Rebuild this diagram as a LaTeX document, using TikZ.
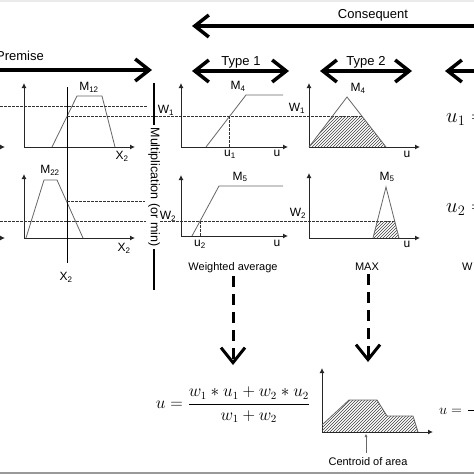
\documentclass[tikz,border=0pt]{standalone}
\usepackage[no-math]{fontspec}
\setmainfont{Liberation Sans}
\usepackage{amsmath}
\usetikzlibrary{arrows.meta,patterns,positioning}

\begin{document}
\begin{tikzpicture}[x=1pt,y=-1pt,
  bigr/.style={line width=3.5pt,-{Straight Barb[length=14pt,width=22pt]}},
  bigl/.style={line width=3.5pt,{Straight Barb[length=14pt,width=22pt]}-},
  bigb/.style={line width=3.5pt,{Straight Barb[length=14pt,width=22pt]}-{Straight Barb[length=14pt,width=22pt]}},
  down/.style={line width=3pt,dash pattern=on 11pt off 7pt,-{Straight Barb[length=15pt,width=24pt]}},
  axes/.style={line width=1pt,draw=black!85,{Latex[length=5pt,width=5pt]}-{Latex[length=5pt,width=5pt]}},
  xax/.style={line width=1pt,draw=black!85,-{Latex[length=5pt,width=5pt]}},
  mf/.style={draw=black!60,line width=0.8pt},
  lvl/.style={draw=black!80,line width=0.7pt,dash pattern=on 2.5pt off 1.5pt},
  hatch/.style={pattern=north east lines,pattern color=black!75},
  barline/.style={line width=1.2pt},
  lbl/.style={inner sep=0pt,font=\fontsize{12}{12}\selectfont},
  ttl/.style={inner sep=0pt,anchor=base,font=\fontsize{13}{13}\selectfont},
  small/.style={inner sep=0pt,anchor=base,font=\fontsize{11}{11}\selectfont}]
\useasboundingbox (0,0) rectangle (474,474);
\fill[white] (0,0) rectangle (474,474);
\clip (0,0) rectangle (474,474);
\fill[black!8] (0,0) rectangle (474,1.5);
\fill[black!40] (0,472) rectangle (474,474);

% headings and the thick arrows
\coordinate (cons l) at (192,26);  \coordinate (cons r) at (480,26);
\coordinate (prem l) at (-10,70);  \coordinate (prem r) at (152,70);
\coordinate (t1 l) at (192,71);    \coordinate (t1 r) at (289,71);
\coordinate (t2 l) at (320,71);    \coordinate (t2 r) at (412,71);
\coordinate (t3 l) at (445,71);    \coordinate (t3 r) at (480,71);
\node[ttl] (cons) at (373,18) {Consequent};
\node[ttl,anchor=base east] (prem) at (44,60) {Premise};
\node[ttl] (type1) at (241,65) {Type 1};
\node[ttl] (type2) at (366,65) {Type 2};
\draw[bigl] (cons l) -- (cons r);
\draw[bigr] (prem l) -- (prem r);
\draw[bigb] (t1 l) -- (t1 r);
\draw[bigb] (t2 l) -- (t2 r);
\draw[bigl] (t3 l) -- (t3 r);

% premise
\draw[xax] (-10,147) -- (5,147);
\draw[xax] (-10,238) -- (5,238);
\draw[axes] (24,83) -- (24,147) -- (135,147);
\draw[mf] (52,147) -- (77,96) -- (102,96) -- (115,147);
\node[lbl] (m12) at (89,87) {M\textsubscript{12}};
\node[lbl] (x2a) at (122,156) {X\textsubscript{2}};
\draw[axes] (24,174) -- (24,238) -- (135,238);
\draw[mf] (26,238) -- (44,180) -- (57,180) -- (83,238);
\node[lbl] (m22) at (50,170) {M\textsubscript{22}};
\node[lbl] (x2b) at (124,248) {X\textsubscript{2}};
\draw[line width=0.8pt] (67,87) -- (67,263);
\node[lbl] (x2) at (66,277) {X\textsubscript{2}};
\draw[lvl] (0,106) -- (147,106);
\draw[lvl] (67,116) -- (362,116);
\draw[lvl] (67,201) -- (145,201);
\draw[lvl] (0,221) -- (146,221);
\draw[lvl] (160,221) -- (395,221);

% multiplication bar
\coordinate (bar top) at (154,83);
\coordinate (bar bot) at (154,290);
\node[inner xsep=2.5pt,inner ysep=0pt,rotate=-90,fill=white,font=\fontsize{12.5}{12.5}\selectfont] (mult) at (154,187) {Multiplication (or min)};
\draw[barline] (bar top) -- (mult.west);
\draw[barline] (mult.east) -- (bar bot);

% type 1
\draw[axes] (181,83) -- (181,147) -- (288,147);
\draw[mf] (206,147) -- (246,95) -- (283,95);
\draw[lvl] (229,116) -- (229,147);
\node[lbl] (m4a) at (238,86) {M\textsubscript{4}};
\node[lbl] (w1a) at (166,110) {W\textsubscript{1}};
\node[lbl] (u1) at (230,154) {u\textsubscript{1}};
\node[lbl] (ua) at (277,153) {u};
\draw[axes] (181,175) -- (181,236) -- (288,236);
\draw[mf] (192,236) -- (219,186) -- (283,186);
\draw[lvl] (200,221) -- (200,236);
\node[lbl] (m5a) at (240,177) {M\textsubscript{5}};
\node[lbl] (w2a) at (168,216) {W\textsubscript{2}};
\node[lbl] (u2) at (200,244) {u\textsubscript{2}};
\node[lbl] (ub) at (277,243) {u};

% type 2
\draw[axes] (309,83) -- (309,147) -- (420,147);
\fill[hatch] (309,147) -- (332.6,116) -- (361.8,116) -- (386,147) -- cycle;
\draw[mf] (309,147) -- (347,97) -- (386,147);
\node[lbl] (m4b) at (358,88) {M\textsubscript{4}};
\node[lbl] (w1b) at (297,108) {W\textsubscript{1}};
\node[lbl] (uc) at (407,154) {u};
\draw[axes] (309,173) -- (309,238) -- (420,238);
\fill[hatch] (373,238) -- (377.3,221) -- (394.7,221) -- (399,238) -- cycle;
\draw[mf] (373,238) -- (386,187) -- (399,238);
\node[lbl] (m5b) at (387,177) {M\textsubscript{5}};
\node[lbl] (w2b) at (298,213) {W\textsubscript{2}};
\node[lbl] (ud) at (407,244) {u};

% defuzzification
\node[small] (wavg) at (233,270) {Weighted average};
\node[small] (max) at (367,270) {MAX};
\node[small,anchor=base west] (w3) at (462,270) {W};
\coordinate (wtip) at (233,365);
\coordinate (mtip) at (368,362);
\draw[down,shorten <=4pt] (wavg.south) -- (wtip);
\draw[down,shorten <=4pt] (max.south -| mtip) -- (mtip);
\node[inner sep=0pt,font=\fontsize{16}{16}\selectfont] (uavg) at (233,405) {$u=\dfrac{w_1\ast u_1+w_2\ast u_2}{w_1+w_2}$};
\draw[axes] (322,368) -- (322,432) -- (433,432);
\fill[hatch] (322,432) -- (322,425) -- (349,400) -- (377,400) -- (387,416) -- (413,416) -- (418,432) -- cycle;
\draw[mf] (322,425) -- (349,400) -- (377,400) -- (387,416) -- (413,416) -- (418,432);
\node[small] (cent) at (368,465) {Centroid of area};
\coordinate (cent top) at (366,434);
\draw[draw=black!60,line width=0.5pt,-{Latex[length=3pt,width=3pt]},shorten <=4pt] (cent.north -| cent top) -- (cent top);

% right edge
\node[inner sep=0pt,anchor=base west,font=\fontsize{22}{22}\selectfont] (eq1) at (446,122) {$u_1 =$};
\node[inner sep=0pt,anchor=base west,font=\fontsize{22}{22}\selectfont] (eq2) at (446,212) {$u_2 =$};
\node[inner sep=0pt,anchor=base west,font=\fontsize{15}{15}\selectfont] (eq3) at (439,414) {$u =$};
\draw[line width=0.6pt] (468,410) -- (476,410);
\end{tikzpicture}
\end{document}
